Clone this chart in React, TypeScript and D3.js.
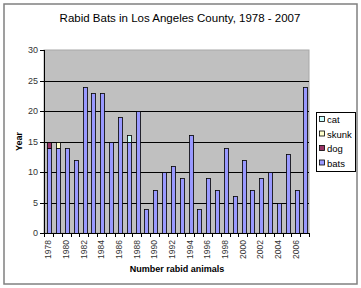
import { useRef, useEffect } from 'react'
import * as d3 from 'd3'

const years = d3.range(1978, 2008).map(String)
const bats = [14, 14, 14, 12, 24, 23, 23, 15, 19, 15, 20, 4, 7, 10, 11, 9, 16, 4, 9, 7, 14, 6, 12, 7, 9, 10, 5, 13, 7, 24]
const dog = [1, 0, 0, 0, 0, 0, 0, 0, 0, 0, 0, 0, 0, 0, 0, 0, 0, 0, 0, 0, 0, 0, 0, 0, 0, 0, 0, 0, 0, 0]
const skunk = [0, 1, 0, 0, 0, 0, 0, 0, 0, 0, 0, 0, 0, 0, 0, 0, 0, 0, 0, 0, 0, 0, 0, 0, 0, 0, 0, 0, 0, 0]
const cat = [0, 0, 0, 0, 0, 0, 0, 0, 0, 1, 0, 0, 0, 0, 0, 0, 0, 0, 0, 0, 0, 0, 0, 0, 0, 0, 0, 0, 0, 0]
const seriesNames = ['bats', 'dog', 'skunk', 'cat']
const legendOrder = ['cat', 'skunk', 'dog', 'bats']
const yTicks = [0, 5, 10, 15, 20, 25, 30]

const colors: Record<string, string> = {
  bats: '#9999ff',
  dog: '#993366',
  skunk: '#ffffcc',
  cat: '#ccffff',
}

const App = () => {
  const ref = useRef<SVGSVGElement>(null)

  useEffect(() => {
    const svg = d3.select(ref.current)
    svg.selectAll('*').remove()
    const font = 'Liberation Sans, Arial, sans-serif'

    const left = 44
    const right = 309
    const top = 50
    const bottom = 233

    // outer chart border
    svg.append('rect')
      .attr('x', 4).attr('y', 4).attr('width', 353).attr('height', 280)
      .attr('fill', '#fff').attr('stroke', '#808080').attr('stroke-width', 1.5)

    svg.append('text')
      .attr('x', 180).attr('y', 22)
      .attr('text-anchor', 'middle')
      .style('font', `11.5px ${font}`)
      .text('Rabid Bats in Los Angeles County, 1978 - 2007')

    const x = d3.scaleBand().domain(years).range([left, right]).paddingInner(0.5).paddingOuter(0.25)
    const xBand = d3.scaleBand().domain(years).range([left, right])
    const y = d3.scaleLinear().domain([0, 30]).range([bottom, top])

    // plot area
    svg.append('rect')
      .attr('x', left).attr('y', top).attr('width', right - left).attr('height', bottom - top)
      .attr('fill', '#c0c0c0').attr('stroke', '#a8a8a8').attr('stroke-width', 1)

    svg.append('g')
      .selectAll('line')
      .data(yTicks.filter((t) => t > 0 && t < 30))
      .enter()
      .append('line')
      .attr('x1', left).attr('x2', right)
      .attr('y1', (d) => Math.round(y(d)) + 0.5).attr('y2', (d) => Math.round(y(d)) + 0.5)
      .attr('stroke', '#000').attr('stroke-width', 1)

    const data = years.map((yr, i) => ({ year: yr, bats: bats[i], dog: dog[i], skunk: skunk[i], cat: cat[i] }))
    const stacked = d3.stack<any>().keys(seriesNames)(data)

    svg.append('g')
      .selectAll('g')
      .data(stacked)
      .enter()
      .append('g')
      .attr('fill', (d) => colors[d.key])
      .selectAll('rect')
      .data((d) => d.filter((p) => p[1] - p[0] > 0))
      .enter()
      .append('rect')
      .attr('x', (d) => Math.round(x(d.data.year)! + 1) + 0.5)
      .attr('width', Math.round(x.bandwidth()))
      .attr('y', (d) => Math.round(y(d[1])) + 0.5)
      .attr('height', (d) => Math.round(y(d[0])) - Math.round(y(d[1])))
      .attr('stroke', '#000').attr('stroke-width', 0.8)

    // y axis
    const yAxis = svg.append('g')
    yAxis.append('line')
      .attr('x1', left + 0.5).attr('x2', left + 0.5).attr('y1', top).attr('y2', bottom)
      .attr('stroke', '#000')
    yAxis.selectAll('line.tick')
      .data(yTicks)
      .enter()
      .append('line')
      .attr('class', 'tick')
      .attr('x1', left - 4).attr('x2', left)
      .attr('y1', (d) => Math.round(y(d)) + 0.5).attr('y2', (d) => Math.round(y(d)) + 0.5)
      .attr('stroke', '#000')
    yAxis.selectAll('text')
      .data(yTicks)
      .enter()
      .append('text')
      .attr('x', left - 6).attr('y', (d) => y(d) + 3)
      .attr('text-anchor', 'end')
      .style('font', `9px ${font}`)
      .attr('fill', '#333')
      .text((d) => d)

    // x axis
    const xAxis = svg.append('g')
    xAxis.append('line')
      .attr('x1', left).attr('x2', right).attr('y1', bottom + 0.5).attr('y2', bottom + 0.5)
      .attr('stroke', '#000')
    xAxis.selectAll('line.tick')
      .data(years.concat(['end']))
      .enter()
      .append('line')
      .attr('class', 'tick')
      .attr('x1', (d, i) => Math.round(left + i * xBand.bandwidth()) + 0.5)
      .attr('x2', (d, i) => Math.round(left + i * xBand.bandwidth()) + 0.5)
      .attr('y1', bottom).attr('y2', bottom + 4)
      .attr('stroke', '#000')
    xAxis.selectAll('text')
      .data(years.filter((d, i) => i % 2 === 0))
      .enter()
      .append('text')
      .attr('transform', (d) => `translate(${xBand(d)! + xBand.bandwidth() / 2 + 3},${bottom + 7}) rotate(-90)`)
      .attr('text-anchor', 'end')
      .style('font', `8.5px ${font}`)
      .attr('fill', '#333')
      .text((d) => d)

    svg.append('text')
      .attr('x', 177).attr('y', 272)
      .attr('text-anchor', 'middle')
      .style('font', `bold 9px ${font}`)
      .text('Number rabid animals')

    svg.append('text')
      .attr('transform', `translate(22,${(top + bottom) / 2}) rotate(-90)`)
      .attr('text-anchor', 'middle')
      .style('font', `bold 9px ${font}`)
      .text('Year')

    // legend
    const lg = svg.append('g').attr('transform', 'translate(316,112)')
    lg.append('rect')
      .attr('x', 0.5).attr('y', 0.5).attr('width', 39).attr('height', 59)
      .attr('fill', '#fff').attr('stroke', '#000').attr('stroke-width', 1)
    const items = lg.selectAll('g.item')
      .data(legendOrder)
      .enter()
      .append('g')
      .attr('class', 'item')
      .attr('transform', (d, i) => `translate(3,${8 + i * 14.5})`)
    items.append('rect')
      .attr('x', 0.5).attr('y', -3.5).attr('width', 5).attr('height', 5)
      .attr('fill', (d) => colors[d]).attr('stroke', '#000').attr('stroke-width', 0.8)
    items.append('text')
      .attr('x', 8).attr('y', 3)
      .style('font', `9.5px ${font}`)
      .text((d) => d)
  }, [])

  return (
    <svg ref={ref} width={361} height={288} style={{ position: 'absolute', left: 0, top: 0 }} />
  )
}

export default App
